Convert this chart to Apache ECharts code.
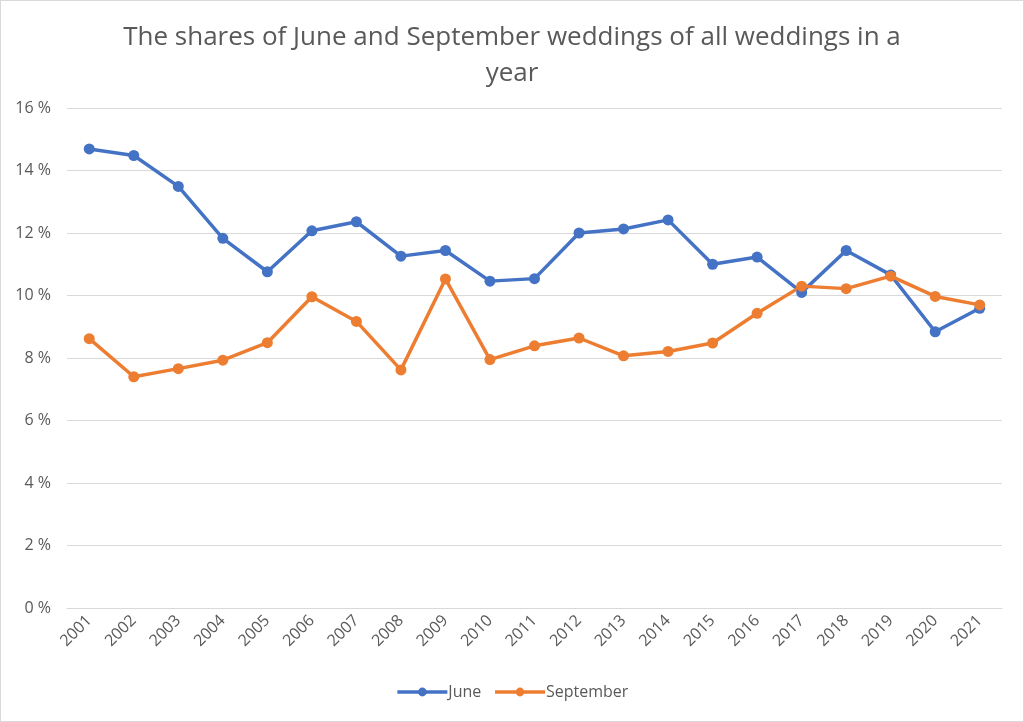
<!DOCTYPE html>
<html><head><meta charset="utf-8">
<script src="https://cdn.jsdelivr.net/npm/echarts@6/dist/echarts.min.js"></script>
<style>html,body{margin:0;padding:0;background:#fff}#c{width:1022px;height:720px;border:1px solid #d9d9d9}</style>
</head><body><div id="c"></div>
<script>
const years = ['2001','2002','2003','2004','2005','2006','2007','2008','2009','2010','2011','2012','2013','2014','2015','2016','2017','2018','2019','2020','2021'];
const june = [14.69,14.48,13.49,11.83,10.76,12.07,12.36,11.26,11.44,10.46,10.54,12.0,12.13,12.42,11.0,11.23,10.10,11.44,10.66,8.84,9.59];
const september = [8.62,7.40,7.66,7.93,8.49,9.96,9.17,7.62,10.53,7.95,8.39,8.64,8.07,8.21,8.48,9.43,10.30,10.22,10.62,9.97,9.70];
const titleText = 'The shares of June and September weddings of all weddings in a\nyear';
const font = '"Open Sans", sans-serif';
const chart = echarts.init(document.getElementById('c'));
chart.setOption({
  animation: false,
  title: {text: titleText, left: 'center', top: 14, textStyle: {fontFamily: font, fontSize: 26, fontWeight: 'normal', color: '#595959', lineHeight: 36}},
  legend: {bottom: 16, left: 'center', itemWidth: 50, itemHeight: 11, itemGap: 12, lineStyle: {width: 3.5}, textStyle: {fontFamily: font, fontSize: 16, color: '#595959', padding: [0,0,0,-4]}, data: ['June','September']},
  grid: {left: 66, right: 21, top: 107, bottom: 113},
  xAxis: {type: 'category', data: years, boundaryGap: true,
    axisLine: {show: true, lineStyle: {color: '#d9d9d9'}}, axisTick: {show: false},
    axisLabel: {rotate: 45, fontFamily: font, fontSize: 16, color: '#595959', margin: 10}},
  yAxis: {type: 'value', min: 0, max: 16, interval: 2,
    axisLine: {show: false}, axisTick: {show: false},
    splitLine: {lineStyle: {color: '#d9d9d9', width: 1}},
    axisLabel: {formatter: '{value} %', fontFamily: font, fontSize: 16, color: '#595959', margin: 16}},
  series: [
    {name: 'June', type: 'line', data: june, symbol: 'circle', symbolSize: 11, lineStyle: {width: 3.5, color: '#4472C4'}, itemStyle: {color: '#4472C4'}},
    {name: 'September', type: 'line', data: september, symbol: 'circle', symbolSize: 11, lineStyle: {width: 3.5, color: '#ED7D31'}, itemStyle: {color: '#ED7D31'}}
  ]
});
</script></body></html>
